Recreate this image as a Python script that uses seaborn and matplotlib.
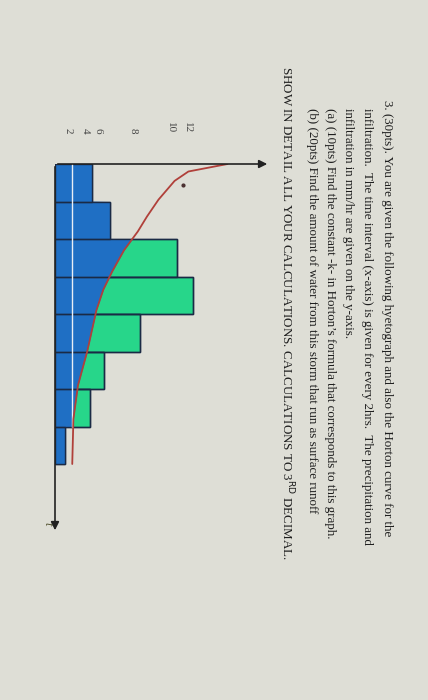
import numpy as np
import matplotlib
matplotlib.use("Agg")
import matplotlib.pyplot as plt
import seaborn as sns

sns.set_theme(style="white")
plt.rcParams['font.family'] = ['Liberation Serif', 'DejaVu Serif']

# Data
band_start = [0, 2, 4, 6, 8, 10, 12, 14]            # hours
rain = [3.2, 4.8, 10.6, 12.0, 7.4, 4.3, 3.0, 0.9]   # mm/hr
curve_t = [0, 0.4, 0.9, 1.9, 2.8, 3.6, 4.6, 5.7, 6.7, 7.8, 8.9, 10, 11.8, 13.6, 16]
curve_f = [15.0, 11.6, 10.4, 9.0, 8.0, 7.2, 6.0, 5.0, 4.2, 3.6, 3.2, 2.8, 2.0, 1.6, 1.5]
fc = 1.5
tick_pos = [11.5, 10.0, 6.8, 3.7, 2.6, 1.1]
tick_lab = ["12", "10", "8", "6", "4", "2"]
lines = [
    "3. (30pts). You are given the following hyetograph and also the Horton curve for the",
    "infiltration.  The time interval (x-axis) is given for every 2hrs.  The precipitation and",
    "infiltration in mm/hr are given on the y-axis.",
    "(a) (10pts) Find the constant -k- in Horton\u2019s formula that corresponds to this graph.",
    "(b) (20pts) Find the amount of water from this storm that run as surface runoff",
    "SHOW IN DETAIL ALL YOUR CALCULATIONS. CALCULATIONS TO 3$^{\\mathrm{RD}}$ DECIMAL.",
]

W, H = 428, 700
bg = "#deded6"
fig = plt.figure(figsize=(W/100, H/100), dpi=100, facecolor=bg)

x0, y0 = 55, 164
sx, sy = 11.5, 18.75
xmax = (270 - x0) / sx
ymax = (533 - y0) / sy
ax = fig.add_axes([x0/W, (H-533)/H, (270-x0)/W, (533-y0)/H])
ax.set_facecolor("none")
ax.set_xlim(0, xmax)
ax.set_ylim(ymax, 0)
for s in ax.spines.values():
    s.set_visible(False)

green = "#27d68a"
blue = "#1f6fc4"
edge = "#1a2a45"
ax.barh(band_start, rain, height=2, align="edge", color=green, edgecolor=edge, lw=1.0, zorder=2)
tt = np.linspace(0, 16, 800)
idx = np.clip((tt // 2).astype(int), 0, 7)
step = np.array(rain)[idx]
fcur = np.interp(tt, curve_t, curve_f)
ax.fill_betweenx(tt, 0, np.minimum(step, fcur), color=blue, zorder=3, lw=0)
ax.barh(band_start, rain, height=2, align="edge", facecolor="none", edgecolor=edge, lw=1.0, zorder=4)
ax.plot([fc, fc], [0, 14], color="#e8eef5", lw=1.0, zorder=5)
sns.lineplot(x=curve_f, y=curve_t, sort=False, color="#b0403a", lw=1.3, ax=ax, zorder=6)
ax.scatter([11.1], [1.1], s=4, color="#4a3030", zorder=7)

ax.annotate("", xy=(xmax, 0), xytext=(0, 0),
            arrowprops=dict(arrowstyle="-|>", color="#222", lw=1.2), zorder=8)
ax.annotate("", xy=(0, ymax), xytext=(0, 0),
            arrowprops=dict(arrowstyle="-|>", color="#222", lw=1.2), zorder=8)

ax.set_xticks(tick_pos)
ax.set_xticklabels(tick_lab, rotation=-90, fontsize=8, color="#444")
ax.xaxis.set_ticks_position("top")
ax.tick_params(axis="x", length=0, pad=22)
ax.set_yticks([])
ax.text(-1.2, 19.1, "t", fontsize=9, color="#553", style="italic", rotation=-90)

xs = [387, 367, 348, 330, 312, 287]
ys = [100, 108, 108, 108, 108, 66]
for s, xp, yp in zip(lines, xs, ys):
    fig.text(xp/W, 1 - yp/H, s, rotation=-90, ha="center", va="top",
             fontsize=9.4, color="#1e1e1e")

fig.savefig("out.png", dpi=100, facecolor=bg)
